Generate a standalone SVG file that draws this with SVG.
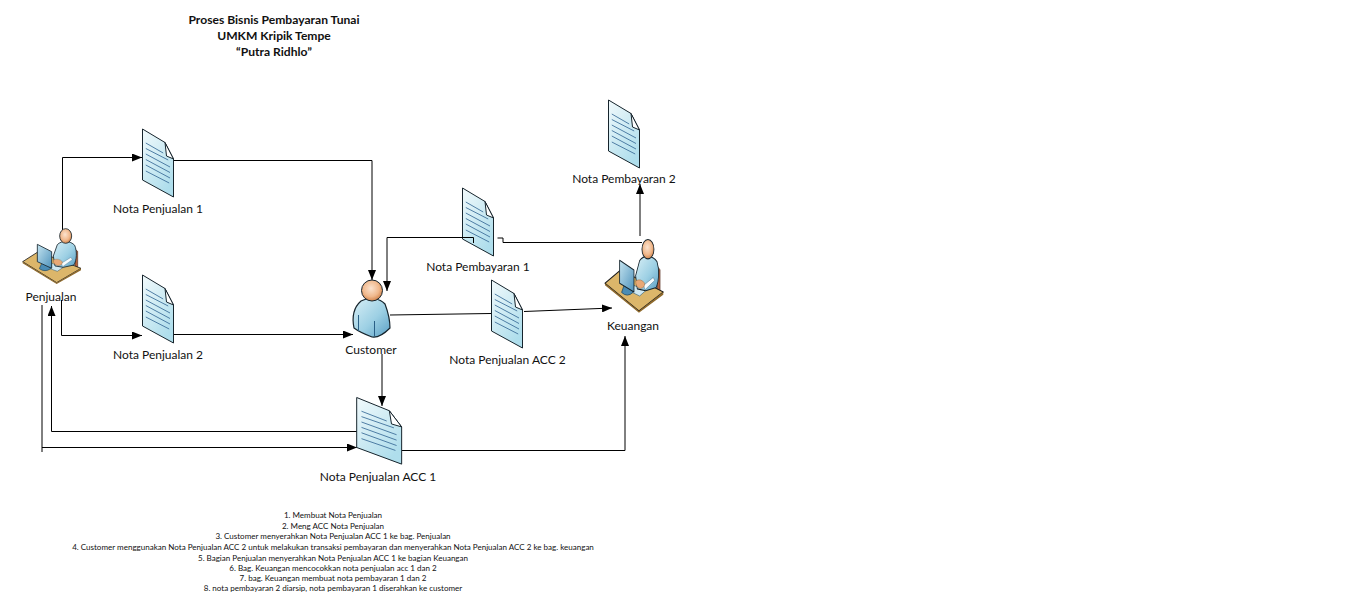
<svg xmlns="http://www.w3.org/2000/svg" width="1360" height="600" viewBox="0 0 1360 600">
<style>
text{font-family:Lato,"Open Sans","Liberation Sans",sans-serif;fill:#111;text-anchor:middle}
.title{font-size:12.1px;font-weight:700}
.label{font-size:12px}
.note{font-size:8.04px}
.conn{fill:none;stroke:#000;stroke-width:1;marker-end:url(#arrow)}
.plain{fill:none;stroke:#000;stroke-width:1}
.outline{stroke:#16242c;stroke-width:1;vector-effect:non-scaling-stroke;stroke-linejoin:round}
.docline{stroke:#3f719b;stroke-width:.9;fill:none;vector-effect:non-scaling-stroke}
</style>
<defs>
<marker id="arrow" viewBox="0 0 10 8" refX="10" refY="4" markerWidth="10" markerHeight="8" markerUnits="userSpaceOnUse" orient="auto"><path d="M0 0L10 4L0 8Z" fill="#000"/></marker>
<linearGradient id="docFill" x1="0" y1="0" x2="0.6" y2="1"><stop offset="0" stop-color="#f2fafc"/><stop offset="1" stop-color="#afdeec"/></linearGradient>
<radialGradient id="head" cx=".45" cy=".4" r=".65"><stop offset="0" stop-color="#fbe3cf"/><stop offset=".6" stop-color="#f0b88c"/><stop offset="1" stop-color="#c9783f"/></radialGradient>
<linearGradient id="shirt" x1="0" y1="0" x2="1" y2="1"><stop offset="0" stop-color="#d8eff6"/><stop offset=".55" stop-color="#9dd0e4"/><stop offset="1" stop-color="#5a9fc4"/></linearGradient>
<linearGradient id="screen" x1="0" y1="0" x2="1" y2="1"><stop offset="0" stop-color="#c5e4f0"/><stop offset="1" stop-color="#4f93bc"/></linearGradient>
<g id="doc">
<path class="outline" fill="url(#docFill)" d="M0 0L22.5 13.5L31 30V68L0 51Z"/>
<path class="outline" fill="#fff" d="M22.5 13.5L24 27L31 30Z"/>
<path class="docline" d="M3.3 14L20.7 24M3.300 19.500L25.700 31M3.300 25L27.500 38M3.300 30.500L27.500 43.500M3.300 36L27.500 49M3.300 42L26.700 54"/>
</g>
<g id="desk">
<path d="M225 118L233 124V172L225 178Z" fill="#b5603a" stroke="#5a3020" stroke-width="2"/>
<path d="M68 155L115 125L243 175L170 218Z" fill="#dcb66a" stroke="#1a1a1a" stroke-width="2.500" stroke-linejoin="round"/>
<path d="M68 155L170 218L243 175L243 181L170 222L68 160Z" fill="#8f6a2c"/>
<path d="M155 160L190 172L172 184L150 176Z" fill="#cfe8f2" stroke="#2a566f" stroke-width="1.500"/>
<path d="M172 104C185 90 212 92 224 106C232 125 230 150 222 165L190 172L165 168L160 138Z" fill="url(#shirt)" stroke="#16242c" stroke-width="2.500" stroke-linejoin="round"/>
<path d="M184 160L213 142L217 149L188 170Z" fill="#f6fcfe" stroke="#2a566f" stroke-width="1"/>
<path d="M160 150Q176 143 187 155Q188 166 174 167Q160 165 160 150Z" fill="#e8a876" stroke="#8a5a30" stroke-width="1"/>
<ellipse cx="197" cy="78" rx="18" ry="22" fill="url(#head)" stroke="#16242c" stroke-width="2.500"/>
<path d="M132 145L118 176Q135 188 152 176L145 150Z" fill="#4a8cb5" stroke="#1d4763" stroke-width="2"/>
<path d="M112 103L155 125V175L112 155Z" fill="url(#screen)" stroke="#16242c" stroke-width="2.500" stroke-linejoin="round"/>
</g>
</defs>

<g id="title">
<text class="title" x="274" y="24">Proses Bisnis Pembayaran Tunai</text>
<text class="title" x="274" y="40">UMKM Kripik Tempe</text>
<text class="title" x="274" y="56">“Putra Ridhlo”</text>
</g>

<g id="connectors">
<path class="conn" d="M62.500 230V157.500H142"/>
<path class="conn" d="M174 160.500H372V280"/>
<path class="conn" d="M61.500 300V335.500H142"/>
<path class="conn" d="M174 334.500H353"/>
<path class="conn" d="M382 354V406"/>
<path class="conn" d="M357 431.500H51.500V306"/>
<path class="plain" d="M42 305V452"/>
<path class="conn" d="M42 447.500H357"/>
<path class="conn" d="M402 450.500H625V336"/>
<path class="plain" d="M390 315L491 313.500"/>
<path class="conn" d="M524 311.500L612 308"/>
<path class="conn" d="M640 236V184"/>
<path class="plain" d="M642 242.500H503V238H497.500"/>
<path class="conn" d="M462 237.500H387V291"/>
</g>

<g id="nota-penjualan-1"><use href="#doc" transform="translate(142.500 129)"/><text class="label" x="158" y="212.500">Nota Penjualan 1</text></g>
<g id="nota-penjualan-2"><use href="#doc" transform="translate(142.500 275)"/><text class="label" x="158" y="358.500">Nota Penjualan 2</text></g>
<g id="nota-penjualan-acc-1"><use href="#doc" transform="translate(356.700 397.500) scale(1.45 .98)"/><text class="label" x="378" y="480.500">Nota Penjualan ACC 1</text></g>
<g id="nota-penjualan-acc-2"><use href="#doc" transform="translate(491.500 280)"/><text class="label" x="507.500" y="363.500">Nota Penjualan ACC 2</text></g>
<g id="nota-pembayaran-1"><use href="#doc" transform="translate(462.500 188)"/><path class="plain" d="M462 237.500H473.500V243"/><text class="label" x="478" y="270.500">Nota Pembayaran 1</text></g>
<g id="nota-pembayaran-2"><use href="#doc" transform="translate(608.500 100)"/><text class="label" x="624" y="182.500">Nota Pembayaran 2</text></g>

<g id="penjualan"><use href="#desk" transform="translate(0 210) scale(.3333)"/><text class="label" x="51" y="300.500">Penjualan</text></g>
<g id="keuangan"><use href="#desk" transform="translate(582.300 214.700) scale(.3333 .4417)"/><text class="label" x="633" y="329.500">Keuangan</text></g>
<g id="customer">
<path d="M361 301C368 297 380 298 385 304C388 312 390 320 390 328C384 334 378 338 372 337C364 334 358 331 354 328C352 318 353 308 361 301Z" fill="url(#shirt)" stroke="#16242c" stroke-width="1.200" stroke-linejoin="round"/>
<path d="M358.500 315V331M374.500 321V336" stroke="#2a5f86" stroke-width="1" fill="none"/>
<circle cx="372" cy="290.500" r="10.500" fill="url(#head)" stroke="#16242c" stroke-width="1"/>
<text class="label" x="371" y="353.500">Customer</text>
</g>

<g id="notes">
<text class="note" x="333" y="518">1. Membuat Nota Penjualan</text>
<text class="note" x="333" y="528.500">2. Meng ACC Nota Penjualan</text>
<text class="note" x="333" y="539">3. Customer menyerahkan Nota Penjualan ACC 1 ke bag. Penjualan</text>
<text class="note" x="333" y="550">4. Customer menggunakan Nota Penjualan ACC 2 untuk melakukan transaksi pembayaran dan menyerahkan Nota Penjualan ACC 2 ke bag. keuangan</text>
<text class="note" x="333" y="560.500">5. Bagian Penjualan menyerahkan Nota Penjualan ACC 1 ke bagian Keuangan</text>
<text class="note" x="333" y="570.500">6. Bag. Keuangan mencocokkan nota penjualan acc 1 dan 2</text>
<text class="note" x="333" y="581">7. bag. Keuangan membuat nota pembayaran 1 dan 2</text>
<text class="note" x="333" y="591">8. nota pembayaran 2 diarsip, nota pembayaran 1 diserahkan ke customer</text>
</g>
</svg>
